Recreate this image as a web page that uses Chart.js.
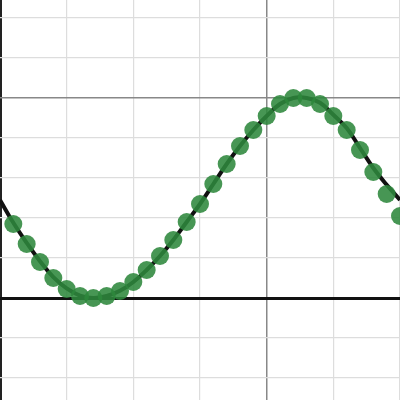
<!DOCTYPE html><html><head><style>html,body{margin:0;padding:0;background:#fff}#w{width:400px;height:400px}</style>
<script src="https://cdn.jsdelivr.net/npm/chart.js@4"></script></head><body><div id="w"><canvas id="c"></canvas></div>
<script>
const lineX=[-4,-3.8,-3.6,-3.4,-3.2,-3,-2.8,-2.6,-2.4,-2.2,-2,-1.8,-1.6,-1.4,-1.2,-1,-0.8,-0.6,-0.4,-0.2,0,0.2,0.4,0.6,0.8,1,1.2,1.4,1.6,1.8,2];
const lineY=[2.45,1.88,1.38,0.92,0.52,0.24,0.06,0,0.05,0.18,0.4,0.7,1.05,1.45,1.9,2.35,2.85,3.35,3.8,4.2,4.55,4.85,5.0,5.0,4.88,4.58,4.25,3.75,3.25,2.83,2.45];
const dotX=[-3.8,-3.6,-3.4,-3.2,-3,-2.8,-2.6,-2.4,-2.2,-2,-1.8,-1.6,-1.4,-1.2,-1,-0.8,-0.6,-0.4,-0.2,0,0.2,0.4,0.6,0.8,1,1.2,1.4,1.6,1.8,2];
const dotY=[1.85,1.35,0.9,0.5,0.225,0.05,0,0.05,0.175,0.4,0.7,1.05,1.45,1.9,2.35,2.85,3.35,3.8,4.2,4.55,4.85,5.0,5.0,4.85,4.55,4.2,3.7,3.15,2.6,2.05];
new Chart(document.getElementById('c'),{data:{datasets:[
{type:'line',data:lineX.map((x,i)=>({x,y:lineY[i]})),borderColor:'#111',borderWidth:4,pointRadius:0,tension:0.4,order:2},
{type:'scatter',data:dotX.map((x,i)=>({x,y:dotY[i]})),backgroundColor:'rgba(45,135,60,0.88)',borderWidth:0,pointRadius:9,order:1}]},
options:{responsive:true,maintainAspectRatio:false,animation:false,layout:{padding:0,autoPadding:false},plugins:{legend:{display:false},tooltip:{enabled:false}},
scales:{x:{type:'linear',min:-4,max:2,ticks:{display:false,stepSize:1,padding:0},border:{display:false},
grid:{drawTicks:false,tickLength:0,color:c=>c.tick.value===0?'#888':c.tick.value===-4?'#222':'#ddd',lineWidth:c=>c.tick.value===0?1.5:c.tick.value===-4?3:1.2}},
y:{min:-2.55,max:7.45,ticks:{display:false,stepSize:1,padding:0},afterBuildTicks:a=>{a.ticks=[-2,-1,0,1,2,3,4,5,6,7].map(v=>({value:v}))},border:{display:false},
grid:{drawTicks:false,tickLength:0,color:c=>c.tick.value===0?'#111':c.tick.value===5?'#888':'#ddd',lineWidth:c=>c.tick.value===0?3:c.tick.value===5?1.5:1.2}}}}});
</script></body></html>
